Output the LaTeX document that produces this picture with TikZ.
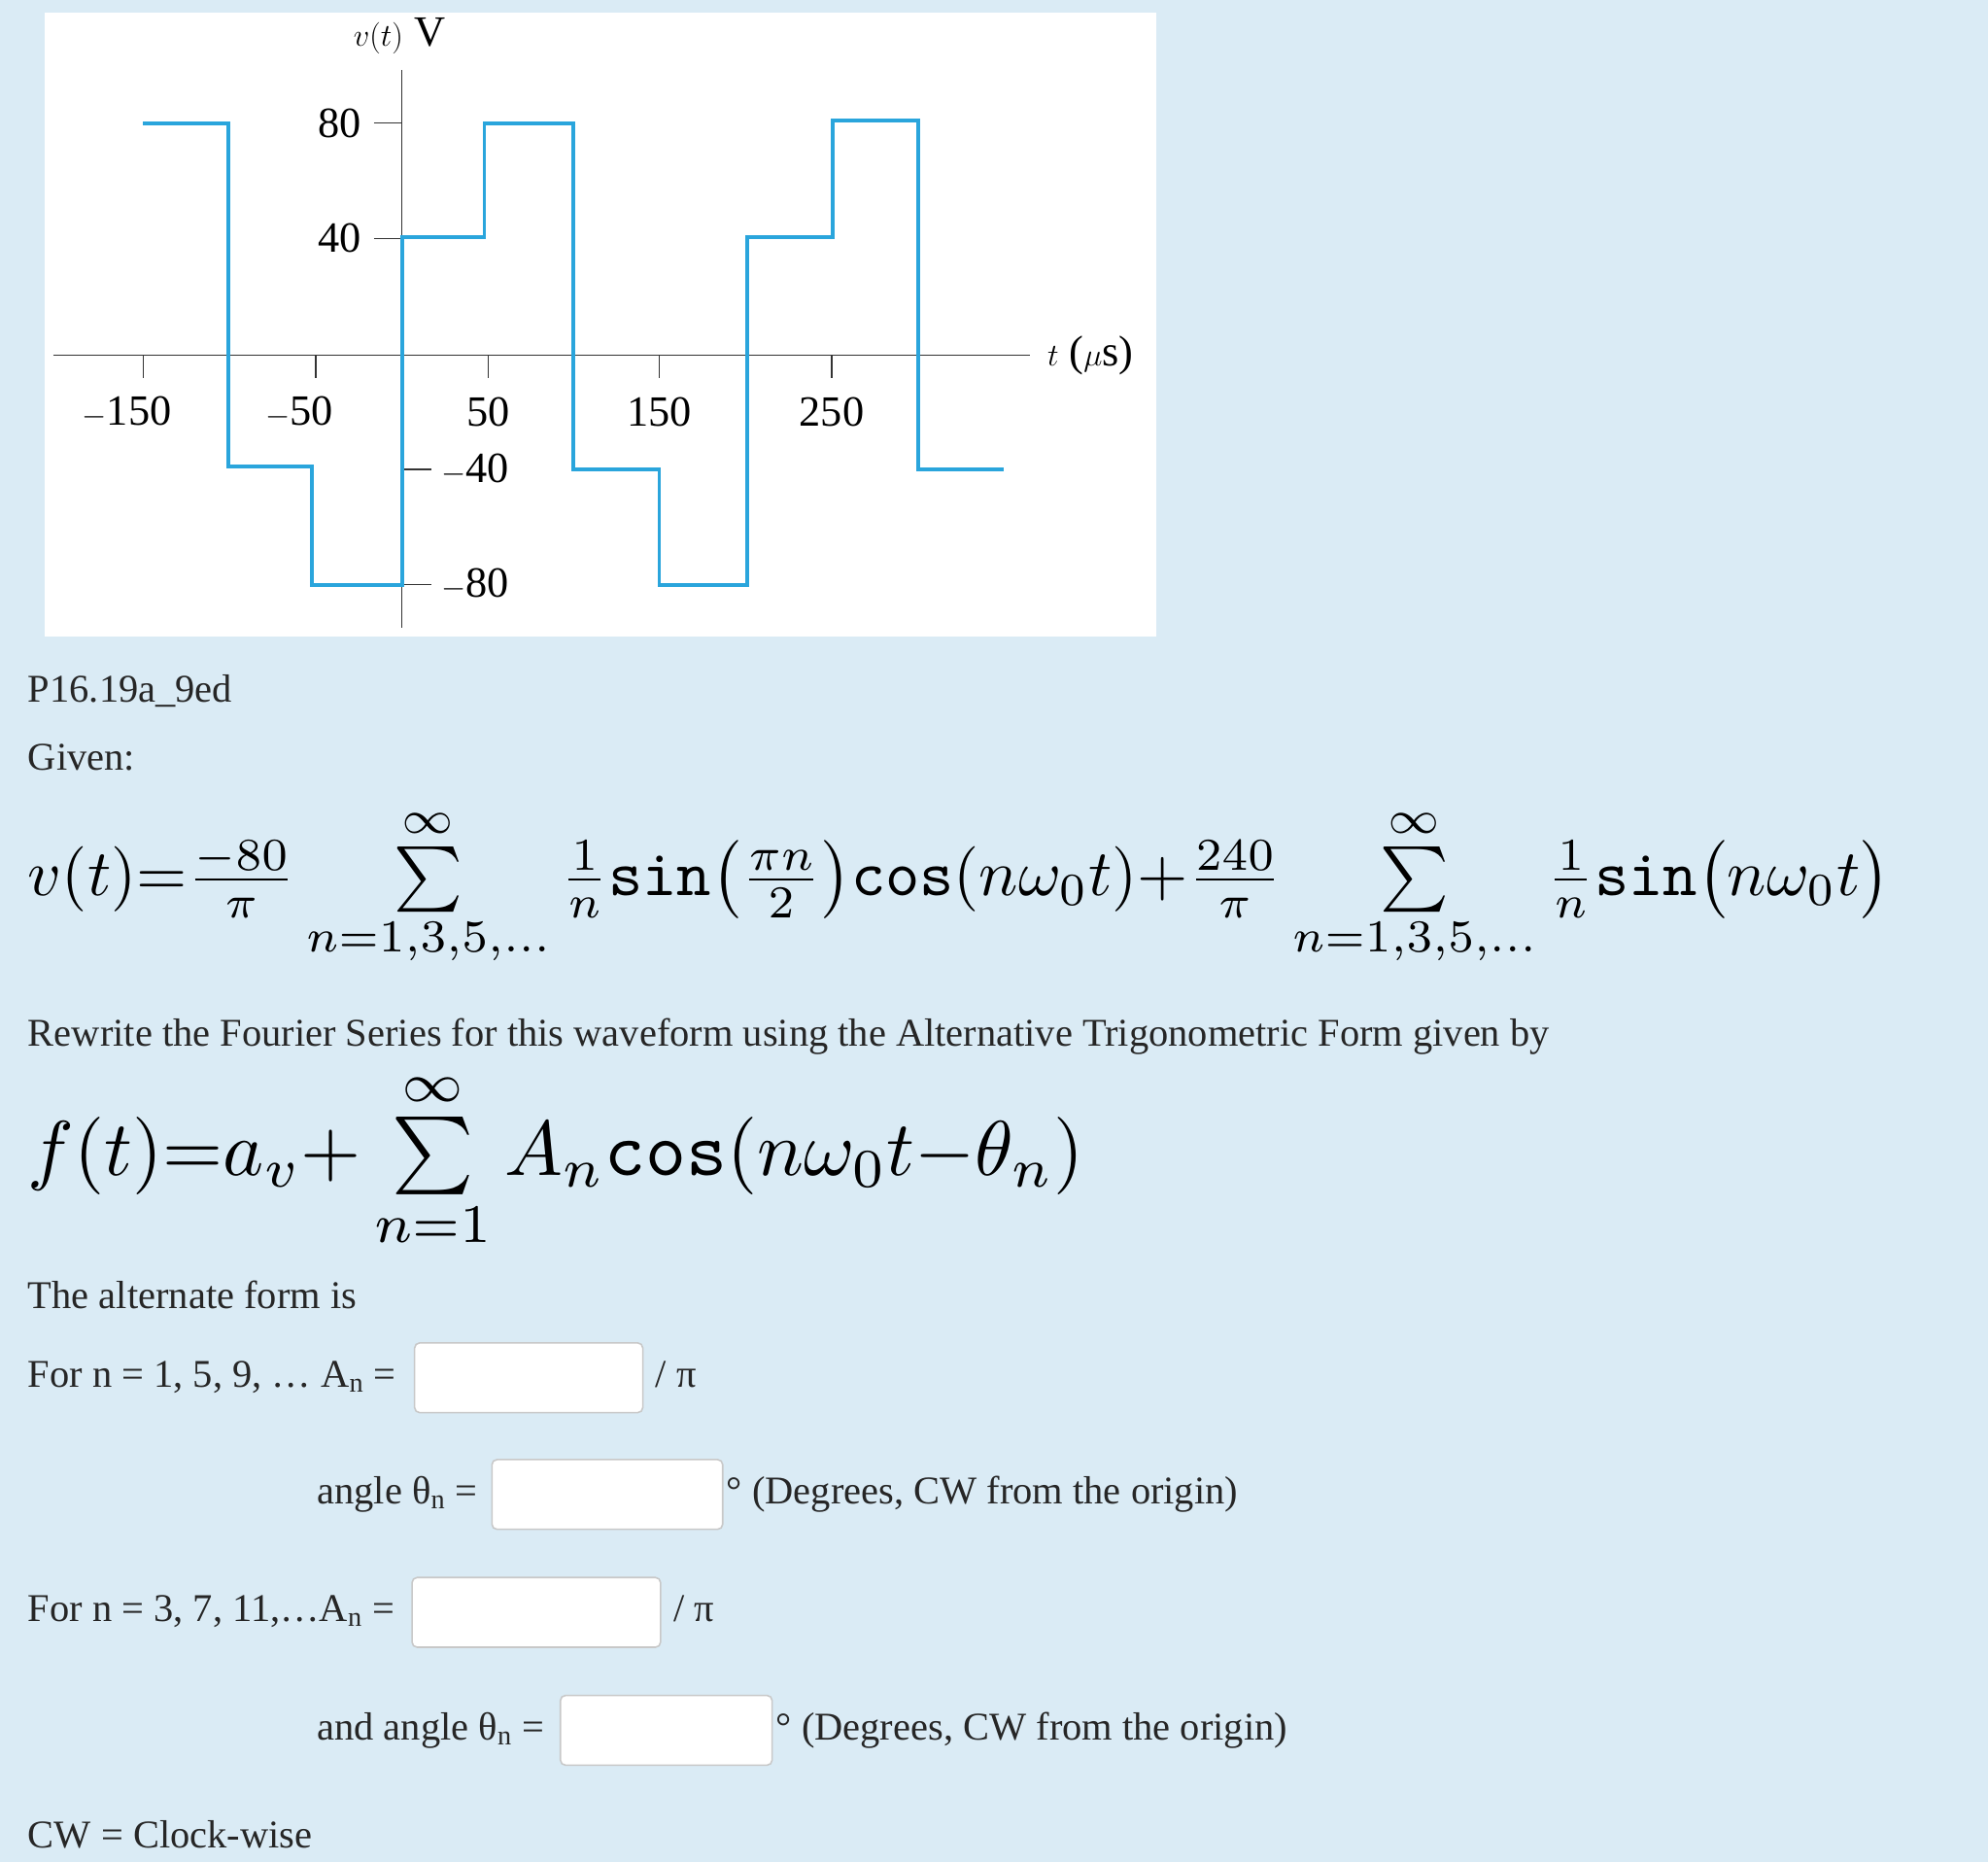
\documentclass[tikz,border=0pt]{standalone}
\usepackage{fontspec}
\setmainfont{Liberation Serif}
\usepackage{amsmath}
\usepackage{graphicx}
\definecolor{bg}{HTML}{DAEBF5}
\definecolor{wave}{HTML}{2AA5DC}
\definecolor{boxb}{HTML}{C8C8C8}
\newcommand{\fn}[1]{\mathtt{#1}}
\begin{document}
\begin{tikzpicture}[x=1pt,y=-1pt,
  txt/.style={anchor=base west,inner sep=0,font=\fontsize{31}{35}\selectfont,text=black!85},
  tick/.style={font=\fontsize{34}{38}\selectfont,inner sep=0},
  field/.style={draw=boxb,fill=white,rounded corners=4pt,line width=1.2pt}]
\fill[bg] (0,0) rectangle (1568,1468);
\useasboundingbox (0,0) rectangle (1568,1468);
\fill[white] (35,10) rectangle (912,502);
% axes
\coordinate (xa) at (42,280); \coordinate (xb) at (812,280);
\coordinate (ya) at (317,55); \coordinate (yb) at (317,495);
\draw[line width=1.3pt,black!80] (xa) -- (xb);
\draw[line width=1.3pt,black!80] (ya) -- (yb);
\foreach \x in {113,249,385,520,656}{
  \draw[line width=1.1pt,black!80] (\x,280) -- (\x,298);}
\foreach \x/\l in {100/{$-$150},236/{$-$50},385/50,520/150,656/250}{
  \node[tick] at (\x,325) {\l};}
\foreach \y/\l in {97/80,188/40}{
  \draw[line width=1.1pt,black!80] (295,\y) -- (317,\y);
  \node[tick,anchor=east] at (285,\y) {\l};}
\foreach \y/\l in {370/{$-$40},461/{$-$80}}{
  \draw[line width=1.1pt,black!80] (317,\y) -- (340,\y);
  \node[tick,anchor=west] at (348,\y) {\l};}
\node[tick] (vl) at (315,28) {$v(t)$ V};
\node[tick,anchor=west] (tl) at (826,280) {$t$ ($\mu$s)};
% waveform
\draw[wave,line width=3pt] (113,97) -- (180,97) -- (180,368) -- (246,368) -- (246,461) -- (317,461)
 -- (317,187) -- (382,187) -- (382,97) -- (452,97) -- (452,370) -- (520,370) -- (520,461)
 -- (589,461) -- (589,187) -- (657,187) -- (657,95) -- (724,95) -- (724,370) -- (792,370);
% texts
\node[txt] (p) at (22,554) {P16.19a\_9ed};
\node[txt] (g) at (22,607) {Given:};
\node[anchor=west,inner sep=0] (e1) at (22,700) {\resizebox{1468pt}{!}{$v(t){=}\tfrac{-80}{\pi}\sum\limits_{n{=}1,3,5,\ldots}^{\infty}\tfrac{1}{n}\fn{sin}\bigl(\tfrac{\pi n}{2}\bigr)\fn{cos}(n\omega_0 t){+}\tfrac{240}{\pi}\sum\limits_{n{=}1,3,5,\ldots}^{\infty}\tfrac{1}{n}\fn{sin}\bigl(n\omega_0 t\bigr)$}};
\node[txt] (r) at (22,825) {Rewrite the Fourier Series for this waveform using the Alternative Trigonometric Form given by};
\node[anchor=west,inner sep=0] (e2) at (22,915) {\resizebox{833pt}{!}{$f(t){=}a_v{+}\sum\limits_{n{=}1}^{\infty}A_n\fn{cos}(n\omega_0 t{-}\theta_n)$}};
\node[txt] (a) at (22,1032) {The alternate form is};
\node[txt] (f1) at (22,1094) {For n = 1, 5, 9, \dots\ A\textsubscript{n} =};
\draw[field] (327,1059) rectangle (507,1114);
\node[txt] (pi1) at (517,1094) {/ π};
\node[txt] (a1) at (250,1186) {angle θ\textsubscript{n} =};
\draw[field] (388,1151) rectangle (570,1206);
\node[txt] (d1) at (573,1186) {° (Degrees, CW from the origin)};
\node[txt] (f2) at (22,1279) {For n = 3, 7, 11,\dots A\textsubscript{n} =};
\draw[field] (325,1244) rectangle (521,1299);
\node[txt] (pi2) at (531,1279) {/ π};
\node[txt] (a2) at (250,1372) {and angle θ\textsubscript{n} =};
\draw[field] (442,1337) rectangle (609,1392);
\node[txt] (d2) at (612,1372) {° (Degrees, CW from the origin)};
\node[txt] (cw) at (22,1457) {CW = Clock-wise};
\end{tikzpicture}
\end{document}
